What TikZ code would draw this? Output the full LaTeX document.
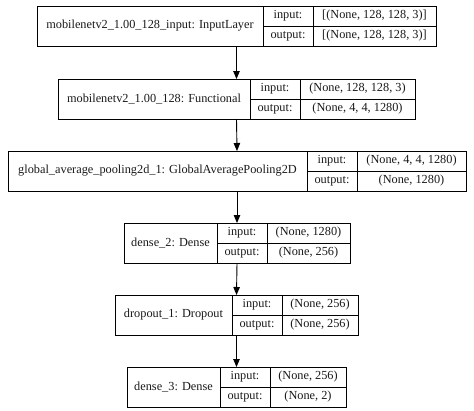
\documentclass[tikz,border=0pt]{standalone}
\usepackage{fontspec}
\setmainfont{Liberation Serif}
\usetikzlibrary{arrows.meta,positioning,fit}
\tikzset{
  cell/.style={rectangle,draw=black,line width=0.9pt,inner sep=0pt,outer sep=0pt,
               minimum height=#1,font=\fontsize{12.3}{14}\selectfont,
               text=black!90,anchor=north west},
  cell/.default=20pt,
  layer/.style={inner sep=0pt,outer sep=0pt},
  arr/.style={-{Triangle[length=8pt,width=6.5pt]},line width=0.9pt},
}
\begin{document}
\begin{tikzpicture}[x=1pt,y=-1pt]
  \useasboundingbox (0,0) rectangle (474,410);

  % input layer
  \node[cell=40pt,minimum width=226pt] (inp-name) at (37,6)
    {mobilenetv2\_1.00\_128\_input: InputLayer};
  \node[cell,minimum width=50pt]  (inp-in)   at (inp-name.north east) {input:};
  \node[cell,minimum width=50pt]  (inp-out)  at (inp-in.south west)   {output:};
  \node[cell,minimum width=123pt] (inp-ins)  at (inp-in.north east)   {[(None, 128, 128, 3)]};
  \node[cell,minimum width=123pt] (inp-outs) at (inp-out.north east)  {[(None, 128, 128, 3)]};
  \node[layer,fit=(inp-name)(inp-outs)] (inp) {};

  % backbone
  \node[cell=40pt,minimum width=192pt] (mob-name) at (58,79)
    {mobilenetv2\_1.00\_128: Functional};
  \node[cell,minimum width=50pt]  (mob-in)   at (mob-name.north east) {input:};
  \node[cell,minimum width=50pt]  (mob-out)  at (mob-in.south west)   {output:};
  \node[cell,minimum width=115pt] (mob-ins)  at (mob-in.north east)   {(None, 128, 128, 3)};
  \node[cell,minimum width=115pt] (mob-outs) at (mob-out.north east)  {(None, 4, 4, 1280)};
  \node[layer,fit=(mob-name)(mob-outs)] (mob) {};

  % pooling
  \node[cell=40pt,minimum width=299pt] (gap-name) at (8,151)
    {global\_average\_pooling2d\_1: GlobalAveragePooling2D};
  \node[cell,minimum width=50pt]  (gap-in)   at (gap-name.north east) {input:};
  \node[cell,minimum width=50pt]  (gap-out)  at (gap-in.south west)   {output:};
  \node[cell,minimum width=109pt] (gap-ins)  at (gap-in.north east)   {(None, 4, 4, 1280)};
  \node[cell,minimum width=109pt] (gap-outs) at (gap-out.north east)  {(None, 1280)};
  \node[layer,fit=(gap-name)(gap-outs)] (gap) {};

  % dense 2
  \node[cell=40pt,minimum width=93pt] (dtwo-name) at (124,223) {dense\_2: Dense};
  \node[cell,minimum width=50pt] (dtwo-in)   at (dtwo-name.north east) {input:};
  \node[cell,minimum width=50pt] (dtwo-out)  at (dtwo-in.south west)   {output:};
  \node[cell,minimum width=83pt] (dtwo-ins)  at (dtwo-in.north east)   {(None, 1280)};
  \node[cell,minimum width=83pt] (dtwo-outs) at (dtwo-out.north east)  {(None, 256)};
  \node[layer,fit=(dtwo-name)(dtwo-outs)] (dtwo) {};

  % dropout
  \node[cell=40pt,minimum width=117pt] (drop-name) at (115,295) {dropout\_1: Dropout};
  \node[cell,minimum width=50pt] (drop-in)   at (drop-name.north east) {input:};
  \node[cell,minimum width=50pt] (drop-out)  at (drop-in.south west)   {output:};
  \node[cell,minimum width=76pt] (drop-ins)  at (drop-in.north east)   {(None, 256)};
  \node[cell,minimum width=76pt] (drop-outs) at (drop-out.north east)  {(None, 256)};
  \node[layer,fit=(drop-name)(drop-outs)] (drop) {};

  % dense 3
  \node[cell=40pt,minimum width=93pt] (dthree-name) at (127,367) {dense\_3: Dense};
  \node[cell,minimum width=50pt] (dthree-in)   at (dthree-name.north east) {input:};
  \node[cell,minimum width=50pt] (dthree-out)  at (dthree-in.south west)   {output:};
  \node[cell,minimum width=76pt] (dthree-ins)  at (dthree-in.north east)   {(None, 256)};
  \node[cell,minimum width=76pt] (dthree-outs) at (dthree-out.north east)  {(None, 2)};
  \node[layer,fit=(dthree-name)(dthree-outs)] (dthree) {};

  \draw[arr] (inp.south)  -- (mob.north);
  \draw[arr] (mob.south)  -- (gap.north);
  \draw[arr] (gap.south)  -- (dtwo.north);
  \draw[arr] (dtwo.south) -- (drop.north);
  \draw[arr] (drop.south) -- (dthree.north);

\end{tikzpicture}
\end{document}
